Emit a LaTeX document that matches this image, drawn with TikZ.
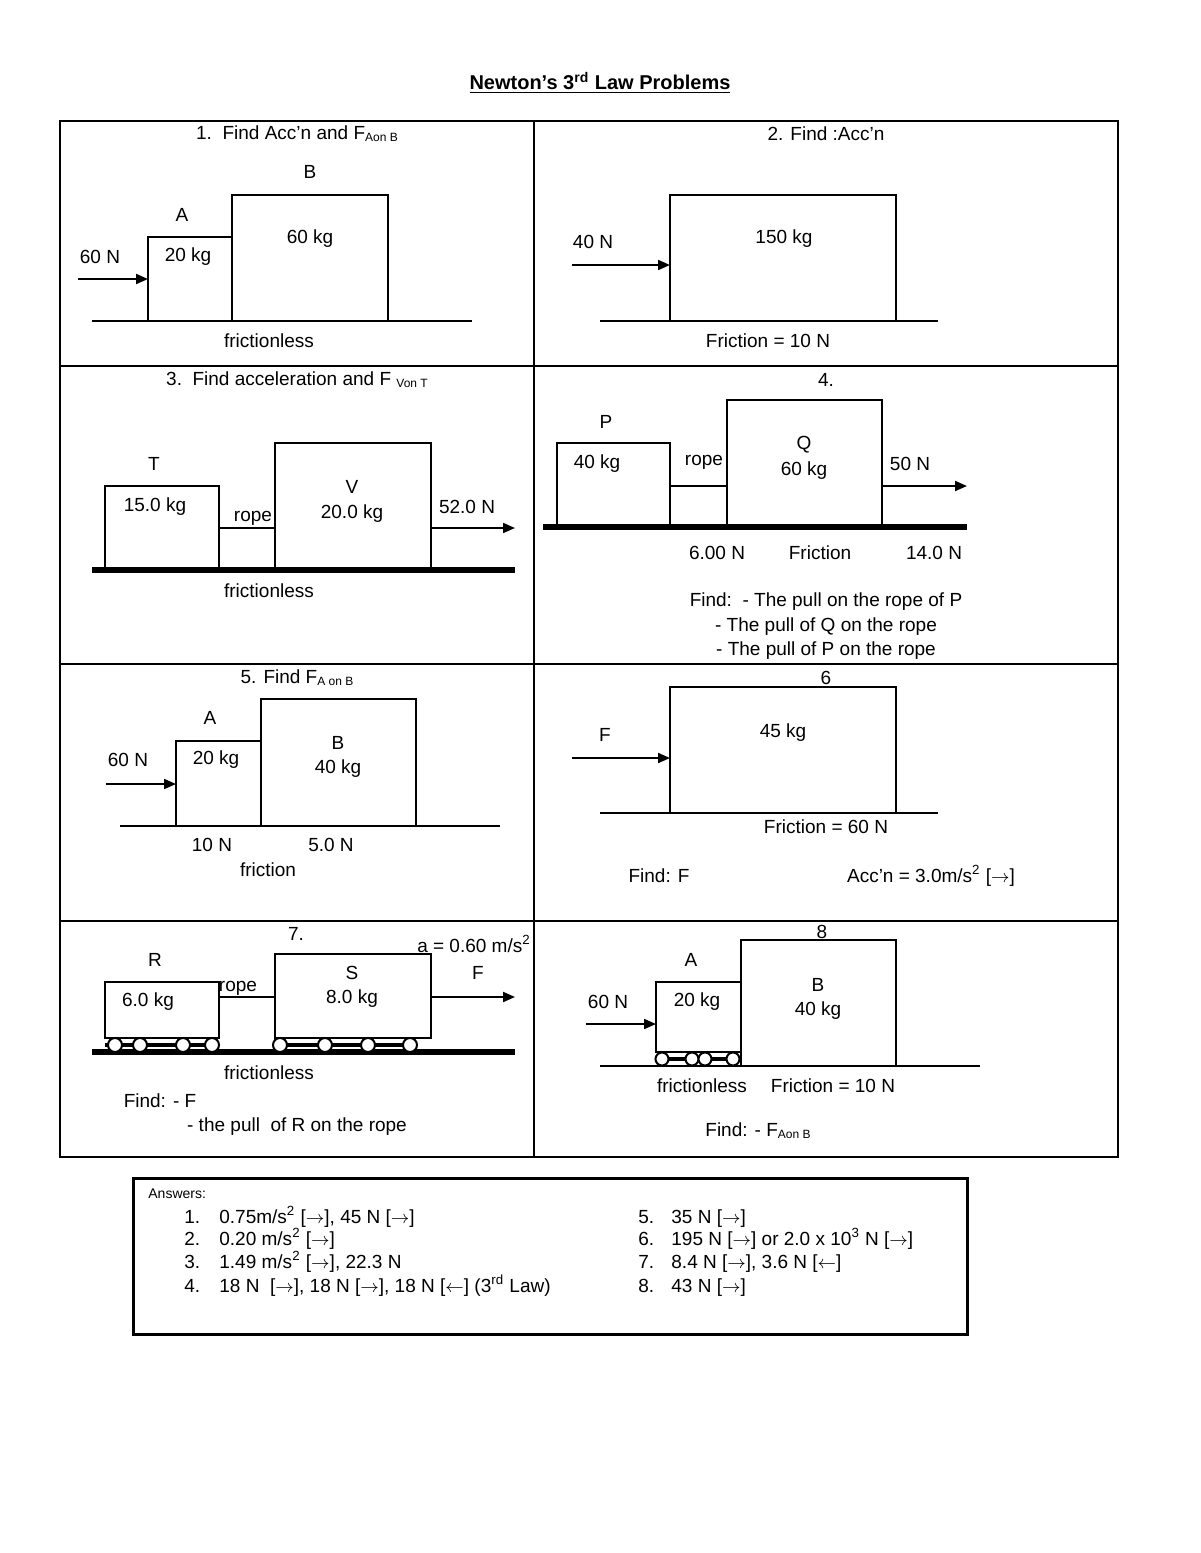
\documentclass[tikz,border=0pt]{standalone}
\usepackage{fontspec}
\setmainfont{Liberation Sans}
\usetikzlibrary{arrows.meta}
\begin{document}
\begin{tikzpicture}[x=0.5pt,y=-0.5pt,
  box/.style={draw,line width=1.2pt},
  gnd/.style={line width=1pt},
  tgnd/.style={line width=2.6pt},
  frc/.style={line width=1pt,-{Triangle[length=6pt,width=5pt]}},
  lbl/.style={font=\fontsize{9.5}{11}\selectfont,inner sep=0pt},
  ans/.style={font=\fontsize{9.5}{11}\selectfont,inner sep=0pt,anchor=base west},
  wheel/.style={draw,fill=white,line width=1pt}]
\useasboundingbox (0,0) rectangle (1200,1553);
\node[lbl,font=\bfseries\fontsize{10}{12}\selectfont] (title) at (600,83) {\underline{Newton’s 3\textsuperscript{rd} Law Problems}};
\draw[line width=0.8pt] (60,121) rectangle (1118,1157);
\draw[line width=0.8pt] (534,121) -- (534,1157);
\foreach \y in {366,664,921} \draw[line width=0.8pt] (60,\y) -- (1118,\y);
% ---- 1
\node[lbl] (t1) at (297,134) {1.\ \ Find Acc'n and F\raisebox{-1pt}{\fontsize{6}{7}\selectfont Aon B}};
\draw[gnd] (92,321) -- (472,321);
\draw[box] (148,237) rectangle (232,321);
\draw[box] (232,195) rectangle (388,321);
\coordinate (a1) at (78,279); \coordinate (b1) at (148,279);
\draw[frc] (a1) -- (b1);
\node[lbl] at (100,257) {60 N};
\node[lbl] at (188,257) {20 kg};
\node[lbl] at (182,215) {A};
\node[lbl] at (310,172) {B};
\node[lbl] at (310,239) {60 kg};
\node[lbl] at (269,341) {frictionless};
% ---- 2
\node[lbl] at (826,134) {2. Find :Acc'n};
\draw[box] (670,195) rectangle (896,321);
\draw[gnd] (600,321) -- (938,321);
\coordinate (a2) at (572,265); \coordinate (b2) at (670,265);
\draw[frc] (a2) -- (b2);
\node[lbl] at (593,242) {40 N};
\node[lbl] at (784,239) {150 kg};
\node[lbl] at (768,341) {Friction = 10 N};
% ---- 3
\node[lbl] at (297,380) {3.\ \ Find acceleration and F \raisebox{-1pt}{\fontsize{6}{7}\selectfont Von T}};
\draw[tgnd] (92,570) -- (515,570);
\draw[box] (105,486) rectangle (219,570);
\draw[box] (275,443) rectangle (431,570);
\draw[line width=1pt] (219,528) -- (275,528);
\coordinate (a3) at (431,528); \coordinate (b3) at (515,528);
\draw[frc] (a3) -- (b3);
\node[lbl] at (154,464) {T};
\node[lbl] at (155,507) {15.0 kg};
\node[lbl] at (253,518) {rope};
\node[lbl] at (352,487) {V};
\node[lbl] at (352,514) {20.0 kg};
\node[lbl] at (467,507) {52.0 N};
\node[lbl] at (269,591) {frictionless};
% ---- 4
\node[lbl] at (826,380) {4.};
\draw[tgnd] (543,527) -- (967,527);
\draw[box] (557,443) rectangle (670,527);
\draw[box] (727,400) rectangle (882,527);
\draw[line width=1pt] (670,486) -- (727,486);
\coordinate (a4) at (882,486); \coordinate (b4) at (967,486);
\draw[frc] (a4) -- (b4);
\node[lbl] at (606,422) {P};
\node[lbl] at (597,464) {40 kg};
\node[lbl] at (704,462) {rope};
\node[lbl] at (804,445) {Q};
\node[lbl] at (804,471) {60 kg};
\node[lbl] at (910,464) {50 N};
\node[lbl] at (717,553) {6.00 N};
\node[lbl] at (820,553) {Friction};
\node[lbl] at (934,553) {14.0 N};
\node[lbl] at (826,602) {Find:\ \ - The pull on the rope of P};
\node[lbl] at (826,627) {- The pull of Q on the rope};
\node[lbl] at (826,651) {- The pull of P on the rope};
% ---- 5
\node[lbl] at (297,678) {5. Find F\raisebox{-1pt}{\fontsize{6}{7}\selectfont A on B}};
\draw[gnd] (120,826) -- (500,826);
\draw[box] (176,741) rectangle (261,826);
\draw[box] (261,699) rectangle (416,826);
\coordinate (a5) at (106,784); \coordinate (b5) at (176,784);
\draw[frc] (a5) -- (b5);
\node[lbl] at (128,760) {60 N};
\node[lbl] at (216,760) {20 kg};
\node[lbl] at (210,718) {A};
\node[lbl] at (338,743) {B};
\node[lbl] at (338,769) {40 kg};
\node[lbl] at (212,845) {10 N};
\node[lbl] at (331,845) {5.0 N};
\node[lbl] at (268,870) {friction};
% ---- 6
\node[lbl] at (826,678) {6};
\draw[box] (670,687) rectangle (896,813);
\draw[gnd] (600,813) -- (938,813);
\coordinate (a6) at (572,758); \coordinate (b6) at (670,758);
\draw[frc] (a6) -- (b6);
\node[lbl] at (605,735) {F};
\node[lbl] at (783,733) {45 kg};
\node[lbl] at (826,827) {Friction = 60 N};
\node[lbl] at (659,876) {Find: F};
\node[lbl] at (931,876) {Acc'n = 3.0m/s\textsuperscript{2} [$\rightarrow$]};
% ---- 7
\node[lbl] at (296,934) {7.};
\draw[tgnd] (92,1052) -- (515,1052);
\draw[box] (105,982) rectangle (219,1038);
\draw[box] (275,954) rectangle (431,1038);
\draw[line width=2.4pt] (105,1045) -- (219,1045);
\draw[line width=2.4pt] (275,1045) -- (416,1045);
\foreach \x in {115,140,183,212,280,325,368,410} \draw[wheel] (\x,1045) circle[radius=7];
\draw[line width=1pt] (219,997) -- (275,997);
\coordinate (a7) at (431,997); \coordinate (b7) at (515,997);
\draw[frc] (a7) -- (b7);
\node[lbl] at (155,960) {R};
\node[lbl] at (148,1002) {6.0 kg};
\node[lbl] at (238,988) {rope};
\node[lbl] at (352,973) {S};
\node[lbl] at (352,999) {8.0 kg};
\node[lbl] at (478,973) {F};
\node[lbl] at (474,944) {a = 0.60 m/s\textsuperscript{2}};
\node[lbl] at (269,1073) {frictionless};
\node[lbl] at (160,1101) {Find: - F};
\node[lbl] at (297,1127) {- the pull\ \ of R on the rope};
% ---- 8
\node[lbl] at (822,932) {8};
\draw[gnd] (600,1066) -- (980,1066);
\draw[box] (656,982) rectangle (741,1052);
\draw[box] (741,940) rectangle (896,1066);
\draw[line width=2.4pt] (656,1059) -- (741,1059);
\foreach \x in {662,692,705,733} \draw[wheel] (\x,1059) circle[radius=6.5];
\coordinate (a8) at (586,1024); \coordinate (b8) at (656,1024);
\draw[frc] (a8) -- (b8);
\node[lbl] at (691,960) {A};
\node[lbl] at (608,1002) {60 N};
\node[lbl] at (697,1002) {20 kg};
\node[lbl] at (818,985) {B};
\node[lbl] at (818,1011) {40 kg};
\node[lbl] at (702,1086) {frictionless};
\node[lbl] at (833,1086) {Friction = 10 N};
\node[lbl] at (758,1131) {Find: - F\raisebox{-1pt}{\fontsize{6}{7}\selectfont Aon B}};
% ---- answers
\draw[line width=1.5pt] (133,1178) rectangle (967,1334);
\node[ans,font=\fontsize{7}{8}\selectfont] at (148,1198) {Answers:};
\foreach \n/\y/\t in {1./1216/{0.75m/s\textsuperscript{2} [$\rightarrow$], 45 N [$\rightarrow$]},
  2./1238/{0.20 m/s\textsuperscript{2} [$\rightarrow$]},
  3./1261/{1.49 m/s\textsuperscript{2} [$\rightarrow$], 22.3 N},
  4./1285/{18 N\ \ [$\rightarrow$], 18 N [$\rightarrow$], 18 N [$\leftarrow$] (3\textsuperscript{rd} Law)}}
  {\node[ans] at (184,\y+7) {\n}; \node[ans] at (219,\y+7) {\t};}
\foreach \n/\y/\t in {5./1216/{35 N [$\rightarrow$]},
  6./1238/{195 N [$\rightarrow$] or 2.0 x 10\textsuperscript{3} N [$\rightarrow$]},
  7./1261/{8.4 N [$\rightarrow$], 3.6 N [$\leftarrow$]},
  8./1285/{43 N [$\rightarrow$]}}
  {\node[ans] at (638,\y+7) {\n}; \node[ans] at (671,\y+7) {\t};}
\end{tikzpicture}
\end{document}
